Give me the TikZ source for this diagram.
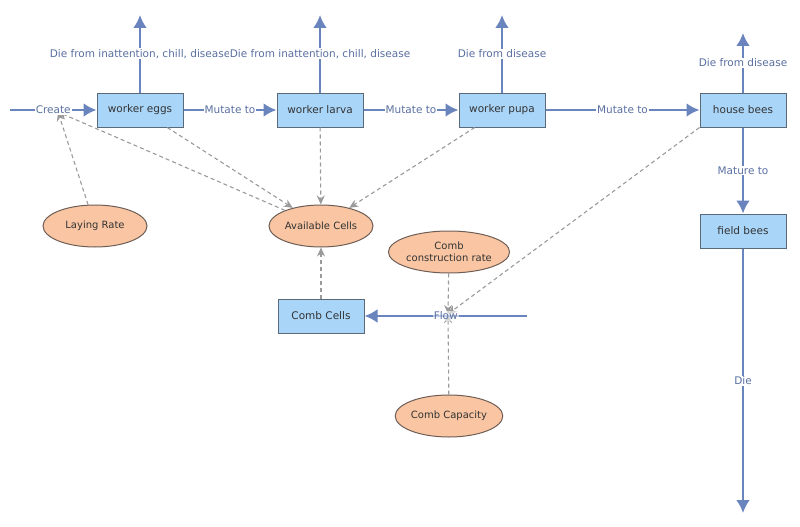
\documentclass[tikz,border=0pt]{standalone}
\usepackage{fontspec}
\setmainfont{DejaVu Sans}
\usetikzlibrary{arrows.meta,shapes.geometric}
\definecolor{stockfill}{HTML}{A9D5F8}
\definecolor{stockline}{HTML}{5B6A78}
\definecolor{flowblue}{HTML}{6A84BE}
\definecolor{varfill}{HTML}{F9C5A2}
\definecolor{varline}{HTML}{6E5E56}
\definecolor{linkgray}{HTML}{9A9A9A}
\tikzset{
	stock/.style={draw=stockline,fill=stockfill,line width=1pt,minimum width=86pt,minimum height=34pt,text=black!80,font=\fontsize{10.5}{12}\selectfont},
	var/.style={ellipse,draw=varline,fill=varfill,line width=1pt,minimum width=104pt,minimum height=42pt,inner sep=0pt,text=black!80,align=center,font=\fontsize{10}{12}\selectfont},
	flow/.style={draw=flowblue,line width=2.8pt,-{Latex[length=13pt,width=14pt]}},
	link/.style={draw=linkgray,line width=1.1pt,dash pattern=on 4pt off 3pt,-{Stealth[length=9pt,width=8pt]}},
	lbl/.style={fill=white,inner sep=1pt,text=flowblue!85!black,font=\fontsize{10.5}{12}\selectfont}
}
\begin{document}
\begin{tikzpicture}[x=1pt,y=-1pt]
	\useasboundingbox(0,0)rectangle(800,527);
	% stocks
	\node[stock](eggs)at(140,110){worker eggs};
	\node[stock](larva)at(320,110){worker larva};
	\node[stock](pupa)at(502,110){worker pupa};
	\node[stock](house)at(743,110){house bees};
	\node[stock](field)at(743,231){field bees};
	\node[stock](cells)at(321,316){Comb Cells};
	% variables
	\node[var](lay)at(95,226){Laying Rate};
	\node[var](avail)at(321,226){Available Cells};
	\node[var](ccr)at(449,252){Comb\\construction rate};
	\node[var](cap)at(449,416){Comb Capacity};
	% flow ends
	\coordinate(src)at(10,110);
	\coordinate(create)at(58,112);
	\coordinate(eggsout)at(140,15);
	\coordinate(larvaout)at(320,15);
	\coordinate(pupaout)at(502,15);
	\coordinate(houseout)at(743,33);
	\coordinate(fieldout)at(743,513);
	\coordinate(combsrc)at(527,316);
	\coordinate(flowpt)at(448,314);
	% links
	\draw[link](lay)--(create);
	\draw[link](avail)--(create);
	\draw[link](eggs)--(avail);
	\draw[link](larva)--(avail);
	\draw[link](pupa)--(avail);
	\draw[link](cells)--(avail);
	\draw[link](house.south west)--(flowpt);
	\draw[link](ccr)--(flowpt);
	\draw[link](cap)--(flowpt);
	% flows
	\draw[flow](src)--node[lbl]{Create}(eggs);
	\draw[flow](eggs)--node[lbl]{Die from inattention, chill, disease}(eggsout);
	\draw[flow](larva)--node[lbl]{Die from inattention, chill, disease}(larvaout);
	\draw[flow](pupa)--node[lbl]{Die from disease}(pupaout);
	\draw[flow](house)--node[lbl]{Die from disease}(houseout);
	\draw[flow](eggs)--node[lbl]{Mutate to}(larva);
	\draw[flow](larva)--node[lbl]{Mutate to}(pupa);
	\draw[flow](pupa)--node[lbl]{Mutate to}(house);
	\draw[flow](house)--node[lbl]{Mature to}(field);
	\draw[flow](field)--node[lbl]{Die}(fieldout);
	\draw[flow](combsrc)--node[lbl,fill opacity=.6,text opacity=1]{Flow}(cells);
\end{tikzpicture}
\end{document}
